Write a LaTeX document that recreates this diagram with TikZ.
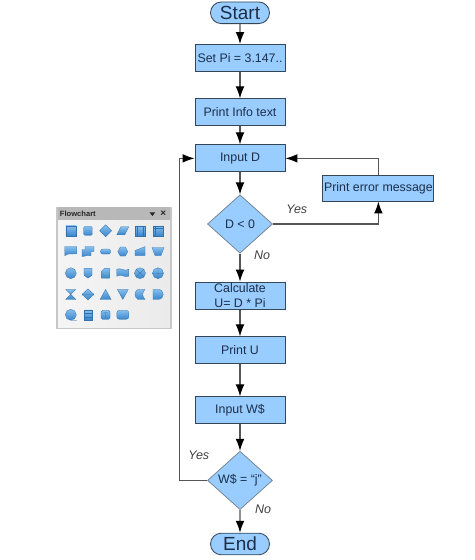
\documentclass[tikz,border=0pt]{standalone}
\usepackage{fontspec}
\setmainfont{Liberation Sans}
\usetikzlibrary{arrows.meta, positioning, calc, shapes.geometric, shapes.misc, shapes.symbols}
\definecolor{flowblue}{HTML}{99CCFF}
\definecolor{flowedge}{HTML}{34465A}
\definecolor{flowtext}{HTML}{1B2F4A}
\definecolor{flowline}{HTML}{555555}
\definecolor{icontop}{HTML}{86BEEC}
\definecolor{iconlow}{HTML}{3A86CC}
\tikzset{
  box/.style={draw=flowedge, line width=0.7pt, fill=flowblue, text=flowtext, minimum width=2.25cm, minimum height=0.675cm, inner sep=0pt, font=\fontsize{8.8pt}{10pt}\selectfont, align=center},
  errbox/.style={box, minimum width=2.775cm, minimum height=0.65cm},
  term/.style={draw=flowedge, line width=0.6pt, fill=flowblue, text=flowtext, rounded rectangle, minimum width=1.475cm, minimum height=0.54cm, inner sep=0pt, font=\fontsize{13.5pt}{14pt}\selectfont},
  test/.style={diamond, draw=flowedge!70, line width=0.5pt, fill=flowblue, text=flowtext, minimum width=1.625cm, minimum height=1.46cm, inner sep=0pt, font=\fontsize{8.8pt}{10pt}\selectfont},
  arr/.style={-{Latex[length=3mm, width=2.2mm, black]}, flowline, line width=0.8pt},
  lab/.style={font=\fontsize{8.9pt}{10pt}\selectfont\itshape, text=black!75, inner sep=0pt},
  icon/.style={draw=iconlow!85!black, line width=0.2pt, top color=icontop, bottom color=iconlow, scale=0.025},
}
\begin{document}
\begin{tikzpicture}
    \useasboundingbox (0,0) rectangle (11.85,14);
    % flow chart
    \node[term] (start) at (6,13.68) {Start};
    \node[box] (setpi) at (6,12.55) {Set Pi = 3.147..};
    \node[box] (info) at (6,11.19) {Print Info text};
    \node[box] (inputd) at (6,10.04) {Input D};
    \node[test] (dtest) at (6,8.4) {D < 0};
    \node[errbox] (err) at (9.46,9.3) {Print error message};
    \node[box] (calc) at (6,6.61) {\baselineskip=10pt Calculate\\U= D * Pi};
    \node[box] (printu) at (6,5.24) {Print U};
    \node[box] (inputw) at (6,3.74) {Input W\$};
    \node[test] (wtest) at (6,1.99) {W\$ = “j”};
    \node[term] (end) at (6,0.4) {End};
    \coordinate (back) at (4.49,1.99);
    \draw[arr] (start) -- (setpi);
    \draw[arr] (setpi) -- (info);
    \draw[arr] (info) -- (inputd);
    \draw[arr] (inputd) -- (dtest);
    \draw[arr] (dtest) -- (calc);
    \draw[arr] (calc) -- (printu);
    \draw[arr] (printu) -- (inputw);
    \draw[arr] (inputw) -- (wtest);
    \draw[arr] (wtest) -- (end);
    \draw[arr] (dtest.east) -| (err.south);
    \draw[arr] (err.north) |- (inputd.east);
    \draw[arr] (wtest.west) -- (back) |- (inputd.west);
    \node[lab] (yes1) at (7.42,8.78) {Yes};
    \node[lab] (no1) at (6.55,7.62) {No};
    \node[lab] (yes2) at (4.97,2.62) {Yes};
    \node[lab] (no2) at (6.58,1.27) {No};
    % toolbar
    \node[draw=black!22, line width=0.8pt, left color=black!4, right color=blue!6!black!8, minimum width=2.85cm, minimum height=3.025cm, inner sep=0pt] (palette) at (2.85,7.31) {};
    \node[fill=black!28, minimum width=2.8cm, minimum height=0.31cm, inner sep=0pt] (bar) at (2.85,8.66) {};
    \node[font=\fontsize{5.4pt}{6pt}\selectfont\bfseries, text=black!85, inner sep=0pt, anchor=west] (title) at (1.49,8.66) {Flowchart};
    \node[font=\fontsize{7pt}{7pt}\selectfont\bfseries, text=black!85, inner sep=0pt] (close) at (4.08,8.66) {×};
    \fill[black!85] (3.74,8.69) -- (3.88,8.69) -- (3.81,8.6) -- cycle;
    % row 1
    \draw[shift={(1.77,8.23)}, icon] (-5,-5) rectangle (5,5);
    \draw[shift={(2.2,8.23)}, icon, rounded corners=1] (-4.5,-4.5) rectangle (4.5,4.5);
    \draw[shift={(2.64,8.23)}, icon] (-6,0) -- (0,6) -- (6,0) -- (0,-6) -- cycle;
    \draw[shift={(3.07,8.23)}, icon] (-6,-4) -- (-2,4) -- (6,4) -- (2,-4) -- cycle;
    \draw[shift={(3.5,8.23)}, icon] (-5,-5) rectangle (5,5) (-3,-5) -- (-3,5) (3,-5) -- (3,5);
    \draw[shift={(3.95,8.23)}, icon] (-5,-5) rectangle (5,5) (-5,3) -- (5,3) (-3,5) -- (-3,-5);
    % row 2
    \draw[shift={(1.77,7.71)}, icon] (-6,5) -- (6,5) -- (6,-2) .. controls (2,-3) and (-2,-1) .. (-6,-4) -- cycle;
    \draw[shift={(2.2,7.71)}, icon] (-3,5) -- (6,5) -- (6,0) -- (3,0) -- (3,-4) .. controls (0,-5) and (-3,-3) .. (-6,-5) -- (-6,2) -- (-3,2) -- cycle;
    \draw[shift={(2.64,7.71)}, icon, rounded corners=1.5] (-5,-2.5) rectangle (5,2.5);
    \draw[shift={(3.07,7.71)}, icon] (-5,0) -- (-2.5,4.5) -- (2.5,4.5) -- (5,0) -- (2.5,-4.5) -- (-2.5,-4.5) -- cycle;
    \draw[shift={(3.5,7.71)}, icon] (-5,-4) -- (-5,1) -- (5,5) -- (5,-4) -- cycle;
    \draw[shift={(3.95,7.71)}, icon] (-6,4) -- (6,4) -- (3,-4) -- (-3,-4) -- cycle;
    % row 3
    \draw[shift={(1.77,7.17)}, icon] (0,0) circle (5.5);
    \draw[shift={(2.2,7.17)}, icon] (-4,5) -- (4,5) -- (4,-2) -- (0,-5) -- (-4,-2) -- cycle;
    \draw[shift={(2.64,7.17)}, icon] (-4,-5) -- (-4,2) -- (-1,5) -- (4,5) -- (4,-5) -- cycle;
    \draw[shift={(3.07,7.17)}, icon] (-6,-3) -- (-6,4) .. controls (-2,6) and (2,1) .. (6,4) -- (6,-3) .. controls (2,-5) and (-2,0) .. (-6,-3) -- cycle;
    \draw[shift={(3.5,7.17)}, icon] (0,0) circle (5.5) (-3.9,-3.9) -- (3.9,3.9) (-3.9,3.9) -- (3.9,-3.9);
    \draw[shift={(3.95,7.17)}, icon] (0,0) circle (5.5) (-5.5,0) -- (5.5,0) (0,-5.5) -- (0,5.5);
    % row 4
    \draw[shift={(1.77,6.64)}, icon] (-5,5) -- (5,5) -- (-5,-5) -- (5,-5) -- cycle;
    \draw[shift={(2.2,6.64)}, icon] (-6,0) -- (0,5.5) -- (6,0) -- (0,-5.5) -- cycle (-6,0) -- (6,0);
    \draw[shift={(2.64,6.64)}, icon] (-5.5,-5) -- (0,5) -- (5.5,-5) -- cycle;
    \draw[shift={(3.07,6.64)}, icon] (-5.5,5) -- (0,-5) -- (5.5,5) -- cycle;
    \draw[shift={(3.5,6.64)}, icon] (-2,5) -- (5,5) .. controls (2,2) and (2,-2) .. (5,-5) -- (-2,-5) .. controls (-6,-3) and (-6,3) .. (-2,5) -- cycle;
    \draw[shift={(3.95,6.64)}, icon] (-5,5) -- (0,5) .. controls (7,5) and (7,-5) .. (0,-5) -- (-5,-5) -- cycle;
    % row 5
    \draw[shift={(1.77,6.13)}, icon] (0,0) circle (5.5) (0,-5.5) -- (6,-5.5);
    \draw[shift={(2.2,6.13)}, icon] (-4,-5) rectangle (4,5) (-4,2) -- (4,2) (-4,-2) -- (4,-2);
    \draw[shift={(2.64,6.13)}, icon, rounded corners=1] (-4.5,-4.5) rectangle (4.5,4.5) (0,-3) -- (0,2) (-2,2) -- (2,2);
    \draw[shift={(3.07,6.13)}, icon, rounded corners=1.8] (-6,-4.5) rectangle (6,4.5);
\end{tikzpicture}
\end{document}
